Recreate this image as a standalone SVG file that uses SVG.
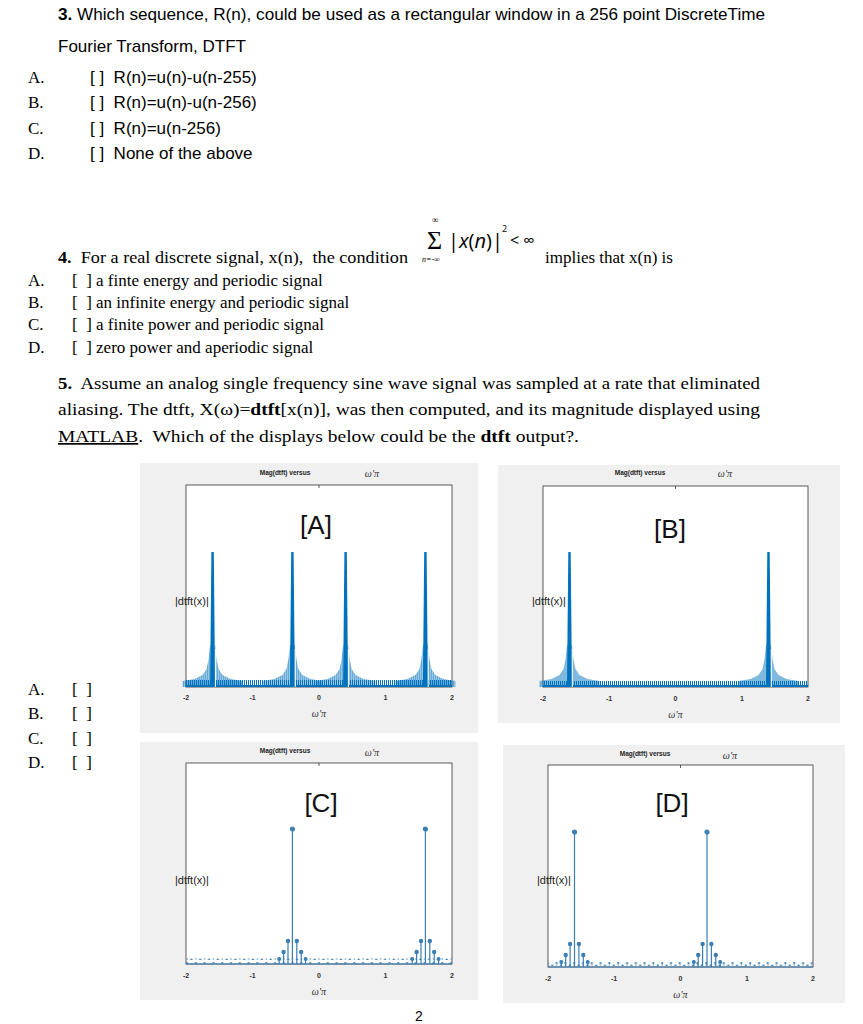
<svg xmlns="http://www.w3.org/2000/svg" xmlns:xlink="http://www.w3.org/1999/xlink" width="863" height="1024" viewBox="0 0 863 1024">
<style>
.s{font-family:"Liberation Sans",Arial,sans-serif;fill:#000}
.r{font-family:"Liberation Serif","Times New Roman",serif;fill:#000}
.q{font-size:17px}
.t{font-size:7px;font-weight:bold;fill:#333;font-family:"Liberation Sans",sans-serif;text-anchor:middle}
.ti{font-size:6.5px;font-weight:bold;fill:#222;font-family:"Liberation Sans",sans-serif;text-anchor:middle}
.w{font-size:10px;font-style:italic;fill:#333;font-family:"Liberation Serif",serif;text-anchor:middle}
.big{font-size:26px;font-family:"Liberation Sans",sans-serif;text-anchor:middle;fill:#111}
.yl{font-size:11px;font-family:"Liberation Sans",sans-serif;fill:#222}
.bg{fill:#f0f0f0}
.box{fill:#fff;stroke:#333;stroke-width:0.8}
</style>
<defs>
<pattern id="vl" patternUnits="userSpaceOnUse" width="2" height="10"><rect x="0" y="0" width="1" height="10" fill="#0072BD"/></pattern>
<pattern id="dots" patternUnits="userSpaceOnUse" width="8.8" height="6"><line x1="2.2" y1="3" x2="2.2" y2="6" stroke="#3a7fb5" stroke-width="0.7"/><circle cx="2.2" cy="3" r="1.1" fill="#3a7fb5"/><circle cx="6.6" cy="5.5" r="1.1" fill="#3a7fb5"/></pattern>
<g id="pk">
<path d="M-30,0 L-30,-6 L-18,-8 L-10,-12 L-6,-18 L-4,-28 L-2.5,-42 L2.5,-42 L4,-28 L6,-18 L10,-12 L18,-8 L30,-6 L30,0 Z" fill="url(#vl)"/>
<path d="M-2.5,0 L-1.2,-135 L1.2,-135 L2.5,0 Z" fill="#0072BD"/>
<line x1="2.8" y1="0" x2="2.8" y2="-38" stroke="#fff" stroke-width="1"/>
</g>
<g id="st" stroke="#3a7fb5" stroke-width="1.2" fill="#3a7fb5">
<line x1="0" y1="0" x2="0" y2="-135"/><circle cx="0" cy="-135" r="2"/>
<line x1="-4.4" y1="0" x2="-4.4" y2="-23"/><circle cx="-4.4" cy="-23" r="1.6"/>
<line x1="4.4" y1="0" x2="4.4" y2="-23"/><circle cx="4.4" cy="-23" r="1.6"/>
<line x1="-8.8" y1="0" x2="-8.8" y2="-12"/><circle cx="-8.8" cy="-12" r="1.6"/>
<line x1="8.8" y1="0" x2="8.8" y2="-12"/><circle cx="8.8" cy="-12" r="1.6"/>
<line x1="-13.2" y1="0" x2="-13.2" y2="-5"/><circle cx="-13.2" cy="-5" r="1.4"/>
<line x1="13.2" y1="0" x2="13.2" y2="-5"/><circle cx="13.2" cy="-5" r="1.4"/>
</g>
</defs>
<rect width="863" height="1024" fill="#fff"/>

<g id="q3">
<text class="s q" x="58" y="20" textLength="707" lengthAdjust="spacingAndGlyphs"><tspan font-weight="bold">3.</tspan> Which sequence, R(n), could be used as a rectangular window in a 256 point DiscreteTime</text>
<text class="s q" x="58" y="52">Fourier Transform, DTFT</text>
<text class="r q" x="28" y="83">A.</text><text class="s q" x="90" y="83">[&#160;]&#160;&#160;R(n)=u(n)-u(n-255)</text>
<text class="r q" x="28" y="108">B.</text><text class="s q" x="90" y="108">[&#160;]&#160;&#160;R(n)=u(n)-u(n-256)</text>
<text class="r q" x="28" y="134">C.</text><text class="s q" x="90" y="134">[&#160;]&#160;&#160;R(n)=u(n-256)</text>
<text class="r q" x="28" y="159">D.</text><text class="s q" x="90" y="159">[&#160;]&#160;&#160;None of the above</text>
</g>

<g id="q4">
<text font-family="'Liberation Serif',serif" style="font-size:26px" x="427" y="249">Σ</text>
<text font-family="'Liberation Serif',serif" style="font-size:9px" x="432" y="223">∞</text>
<text font-family="'Liberation Serif',serif" style="font-size:8px;font-style:italic" x="422" y="262">n=-∞</text>
<text font-family="'Open Sans',sans-serif" style="font-size:20px" x="448" y="248">|<tspan font-style="italic">x</tspan>(<tspan font-style="italic">n</tspan>)|</text>
<text font-family="'Open Sans',sans-serif" style="font-size:9px" x="502" y="232">2</text>
<text font-family="'Open Sans',sans-serif" style="font-size:16px" x="510" y="246">&lt; ∞</text>
<text class="r q" x="58" y="263" textLength="350" lengthAdjust="spacingAndGlyphs"><tspan font-weight="bold">4.</tspan>&#160; For a real discrete signal, x(n),&#160; the condition</text>
<text class="r q" x="545" y="263">implies that x(n) is</text>
<text class="r q" x="28" y="286">A.</text><text class="r q" x="72" y="286">[&#160;&#160;] a finte energy and periodic signal</text>
<text class="r q" x="28" y="308">B.</text><text class="r q" x="72" y="308">[&#160;&#160;] an infinite energy and periodic signal</text>
<text class="r q" x="28" y="330">C.</text><text class="r q" x="72" y="330">[&#160;&#160;] a finite power and periodic signal</text>
<text class="r q" x="28" y="353">D.</text><text class="r q" x="72" y="353">[&#160;&#160;] zero power and aperiodic signal</text>
</g>

<g id="q5">
<text class="r q" x="58" y="389" textLength="702" lengthAdjust="spacingAndGlyphs"><tspan font-weight="bold">5.</tspan>&#160; Assume an analog single frequency sine wave signal was sampled at a rate that eliminated</text>
<text class="r q" x="58" y="415" textLength="702" lengthAdjust="spacingAndGlyphs">aliasing. The dtft, X(ω)=<tspan font-weight="bold">dtft</tspan>[x(n)], was then computed, and its magnitude displayed using</text>
<text class="r q" x="58" y="442" textLength="521" lengthAdjust="spacingAndGlyphs"><tspan text-decoration="underline">MATLAB</tspan>.&#160; Which of the displays below could be the <tspan font-weight="bold">dtft</tspan> output?.</text>
<text class="r q" x="28" y="695">A.</text><text class="r q" x="72" y="695">[&#160;&#160;]</text>
<text class="r q" x="28" y="719">B.</text><text class="r q" x="72" y="719">[&#160;&#160;]</text>
<text class="r q" x="28" y="744">C.</text><text class="r q" x="72" y="744">[&#160;&#160;]</text>
<text class="r q" x="28" y="768">D.</text><text class="r q" x="72" y="768">[&#160;&#160;]</text>
</g>

<g id="plotA">
<rect class="bg" x="140" y="463" width="338" height="270"/>
<rect class="box" x="186" y="485" width="266" height="202"/>
<line x1="319" y1="485" x2="319" y2="488" stroke="#333" stroke-width="0.8"/>
<text class="ti" x="285" y="475">Mag(dtft) versus</text>
<text class="w" x="372" y="477">ω′π</text>
<text class="big" x="316" y="534">[A]</text>
<rect x="186" y="680" width="266" height="7" fill="url(#vl)"/>
<rect x="186" y="685" width="266" height="2" fill="#0072BD"/>
<use href="#pk" x="212.6" y="687"/><use href="#pk" x="292.4" y="687"/><use href="#pk" x="345.6" y="687"/><use href="#pk" x="425.4" y="687"/>
<text class="yl" x="175" y="605">|dtft(x)|</text>
<text class="t" x="186" y="700">-2</text><text class="t" x="252.5" y="700">-1</text><text class="t" x="319" y="700">0</text><text class="t" x="385.5" y="700">1</text><text class="t" x="452" y="700">2</text>
<text class="w" x="319" y="717">ω′π</text>
</g>

<g id="plotB">
<rect class="bg" x="498" y="465" width="342" height="258"/>
<rect class="box" x="543" y="486" width="265" height="201"/>
<line x1="675.5" y1="486" x2="675.5" y2="489" stroke="#333" stroke-width="0.8"/>
<text class="ti" x="640" y="475">Mag(dtft) versus</text>
<text class="w" x="725" y="477">ω′π</text>
<text class="big" x="670" y="538">[B]</text>
<rect x="543" y="681" width="265" height="6" fill="url(#vl)"/>
<rect x="543" y="685" width="265" height="2" fill="#0072BD"/>
<use href="#pk" x="569.5" y="687"/><use href="#pk" x="768.5" y="687"/>
<text class="yl" x="532" y="605">|dtft(x)|</text>
<text class="t" x="543" y="701">-2</text><text class="t" x="609" y="701">-1</text><text class="t" x="675.5" y="701">0</text><text class="t" x="742" y="701">1</text><text class="t" x="808" y="701">2</text>
<text class="w" x="675.5" y="718">ω′π</text>
</g>

<g id="plotC">
<rect class="bg" x="140" y="742" width="338" height="258"/>
<rect class="box" x="186" y="763" width="266" height="201"/>
<line x1="319" y1="763" x2="319" y2="766" stroke="#333" stroke-width="0.8"/>
<text class="ti" x="285" y="753">Mag(dtft) versus</text>
<text class="w" x="372" y="756">ω′π</text>
<text class="big" x="321" y="812">[C]</text>
<rect x="186" y="958" width="266" height="6" fill="url(#dots)"/>
<line x1="186" y1="964" x2="452" y2="964" stroke="#3a7fb5" stroke-width="1"/>
<use href="#st" x="292.4" y="964"/><use href="#st" x="425.4" y="964"/>
<text class="yl" x="175" y="884">|dtft(x)|</text>
<text class="t" x="186" y="978">-2</text><text class="t" x="252.5" y="978">-1</text><text class="t" x="319" y="978">0</text><text class="t" x="385.5" y="978">1</text><text class="t" x="452" y="978">2</text>
<text class="w" x="319" y="995">ω′π</text>
</g>

<g id="plotD">
<rect class="bg" x="503" y="745" width="342" height="258"/>
<rect class="box" x="548" y="765" width="265" height="202"/>
<line x1="680.5" y1="765" x2="680.5" y2="768" stroke="#333" stroke-width="0.8"/>
<text class="ti" x="645" y="756">Mag(dtft) versus</text>
<text class="w" x="730" y="759">ω′π</text>
<text class="big" x="672" y="812">[D]</text>
<rect x="548" y="961" width="265" height="6" fill="url(#dots)"/>
<line x1="548" y1="967" x2="813" y2="967" stroke="#3a7fb5" stroke-width="1"/>
<use href="#st" x="574.5" y="967"/><use href="#st" x="707" y="967"/>
<text class="yl" x="537" y="884">|dtft(x)|</text>
<text class="t" x="548" y="981">-2</text><text class="t" x="614" y="981">-1</text><text class="t" x="680.5" y="981">0</text><text class="t" x="747" y="981">1</text><text class="t" x="813" y="981">2</text>
<text class="w" x="680.5" y="998">ω′π</text>
</g>

<text class="s" font-size="14" x="419" y="1021" text-anchor="middle">2</text>
</svg>
